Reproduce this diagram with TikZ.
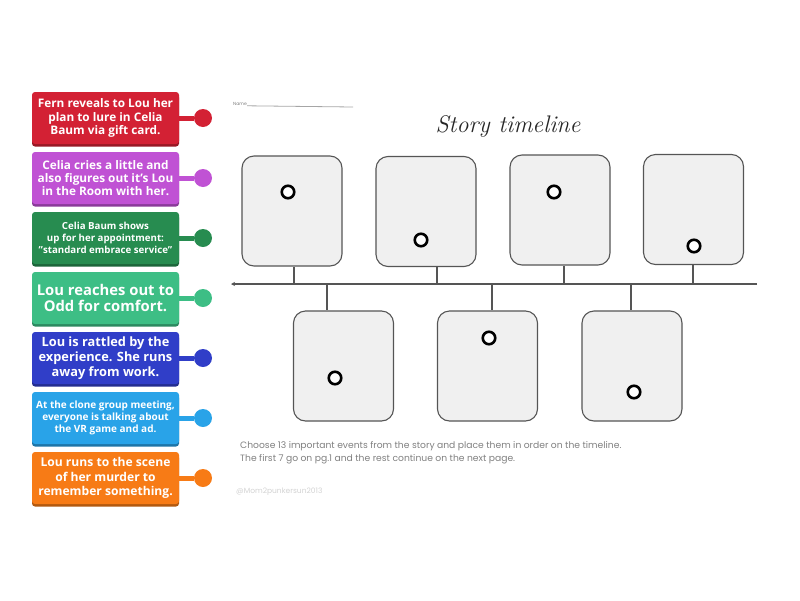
\documentclass[tikz,border=0pt]{standalone}
\usepackage{fontspec}
\setmainfont{Open Sans}
\newfontfamily\sheetfont{Poppins}
\newfontfamily\titlefont{Latin Modern Roman}
\usepackage{tikz}
\usetikzlibrary{arrows.meta,shadows}
\definecolor{cardred}{RGB}{211,33,52}
\definecolor{cardpurple}{RGB}{192,82,212}
\definecolor{cardgreen}{RGB}{39,140,80}
\definecolor{cardmint}{RGB}{61,190,133}
\definecolor{cardblue}{RGB}{48,62,200}
\definecolor{cardsky}{RGB}{41,163,232}
\definecolor{cardorange}{RGB}{247,123,22}
\definecolor{sheetgray}{RGB}{85,85,85}

\begin{document}
\begin{tikzpicture}[x=1pt,y=-1pt,
  cardbox/.style={rectangle, rounded corners=3pt, fill=#1, text=white, align=center,
    minimum width=147pt, minimum height=52pt, inner sep=1pt,
    drop shadow={shadow xshift=0pt, shadow yshift=-2.5pt, fill=#1!72!black, opacity=1}},
  pin/.style={circle, fill=#1, minimum size=18pt, inner sep=0pt},
  stub/.style={draw=#1, line width=5pt},
  framebox/.style={draw=sheetgray, fill=gray!12, line width=1.1pt, rounded corners=12pt,
    minimum width=100pt, minimum height=110pt, inner sep=0pt},
  slot/.style={circle, draw=black, fill=white, line width=2.6pt, minimum size=12.5pt, inner sep=0pt}]
  \useasboundingbox (0,0) rectangle (800,600);

  % Event cards
  \node[cardbox=cardred, font=\bfseries\fontsize{11.8}{13.3}\selectfont] (c1) at (105.5,118)
    {Fern reveals to Lou her\\plan to lure in Celia\\Baum via gift card.};
  \node[cardbox=cardpurple, font=\bfseries\fontsize{11.8}{13.3}\selectfont] (c2) at (105.5,178)
    {Celia cries a little and\\also figures out it's Lou\\in the Room with her.};
  \node[cardbox=cardgreen, font=\bfseries\fontsize{9.7}{11.7}\selectfont] (c3) at (105.5,238)
    {Celia Baum shows\\up for her appointment:\\\char34 standard embrace service\char34};
  \node[cardbox=cardmint, font=\bfseries\fontsize{14.8}{16.7}\selectfont] (c4) at (105.5,298)
    {Lou reaches out to\\Odd for comfort.};
  \node[cardbox=cardblue, font=\bfseries\fontsize{12.8}{15}\selectfont] (c5) at (105.5,358)
    {Lou is rattled by the\\experience. She runs\\away from work.};
  \node[cardbox=cardsky, font=\bfseries\fontsize{10}{11.7}\selectfont] (c6) at (105.5,418)
    {At the clone group meeting,\\everyone is talking about\\the VR game and ad.};
  \node[cardbox=cardorange, font=\bfseries\fontsize{12.1}{14.3}\selectfont] (c7) at (105.5,478)
    {Lou runs to the scene\\of her murder to\\remember something.};

  % Pins
  \node[pin=cardred] (d1) at (203,118) {};
  \node[pin=cardpurple] (d2) at (203,178) {};
  \node[pin=cardgreen] (d3) at (203,238) {};
  \node[pin=cardmint] (d4) at (203,298) {};
  \node[pin=cardblue] (d5) at (203,358) {};
  \node[pin=cardsky] (d6) at (203,418) {};
  \node[pin=cardorange] (d7) at (203,478) {};
  \draw[stub=cardred] (c1.east) -- (d1);
  \draw[stub=cardpurple] (c2.east) -- (d2);
  \draw[stub=cardgreen] (c3.east) -- (d3);
  \draw[stub=cardmint] (c4.east) -- (d4);
  \draw[stub=cardblue] (c5.east) -- (d5);
  \draw[stub=cardsky] (c6.east) -- (d6);
  \draw[stub=cardorange] (c7.east) -- (d7);

  % Worksheet header
  \node[anchor=west, text=gray, font=\sheetfont\fontsize{4.5}{5}\selectfont, inner sep=0pt] (nm) at (233,104) {Name};
  \coordinate (nmend) at (353,107);
  \draw[gray!70, line width=0.8pt] (nm.south east) -- (nmend);
  \node[font=\titlefont\itshape\fontsize{24}{26}\selectfont, text=black!85] (title) at (508,126) {Story timeline};

  % Timeline
  \coordinate (lineR) at (757,284);
  \coordinate (lineL) at (231,284);
  \draw[sheetgray, line width=1.4pt, -{Stealth[length=4pt,width=4pt]}] (lineR) -- (lineL);

  % Frames above the line
  \node[framebox] (t1) at (292,211) {};
  \node[framebox] (t2) at (426,211.5) {};
  \node[framebox] (t3) at (560,210) {};
  \node[framebox] (t4) at (693.5,209.5) {};
  % Frames below the line
  \node[framebox] (b1) at (343.5,366) {};
  \node[framebox] (b2) at (487.5,366) {};
  \node[framebox] (b3) at (632,366) {};

  % Ticks
  \coordinate (k1) at (294,284);
  \coordinate (k2) at (437,284);
  \coordinate (k3) at (564,284);
  \coordinate (k4) at (693,284);
  \coordinate (k5) at (327,284);
  \coordinate (k6) at (492,284);
  \coordinate (k7) at (631,284);
  \draw[sheetgray, line width=1.4pt] (k1) -- (k1 |- t1.south);
  \draw[sheetgray, line width=1.4pt] (k2) -- (k2 |- t2.south);
  \draw[sheetgray, line width=1.4pt] (k3) -- (k3 |- t3.south);
  \draw[sheetgray, line width=1.4pt] (k4) -- (k4 |- t4.south);
  \draw[sheetgray, line width=1.4pt] (k5) -- (k5 |- b1.north);
  \draw[sheetgray, line width=1.4pt] (k6) -- (k6 |- b2.north);
  \draw[sheetgray, line width=1.4pt] (k7) -- (k7 |- b3.north);

  % Drop targets
  \node[slot] (s1) at (288,192) {};
  \node[slot] (s2) at (421,240) {};
  \node[slot] (s3) at (554,192) {};
  \node[slot] (s4) at (694,246) {};
  \node[slot] (s5) at (335,378) {};
  \node[slot] (s6) at (489,338) {};
  \node[slot] (s7) at (634,392) {};

  % Instructions
  \node[anchor=north west, align=left, text=gray, inner sep=0pt,
    font=\sheetfont\fontsize{9.2}{13}\selectfont] (note) at (240,441)
    {Choose 13 important events from the story and place them in order on the timeline.\\
     The first 7 go on pg.1 and the rest continue on the next page.};
  \node[anchor=west, text=gray!35, inner sep=0pt, font=\sheetfont\fontsize{7.5}{8}\selectfont] (mark) at (236,492)
    {@Mom2punkersun2013};
\end{tikzpicture}
\end{document}
